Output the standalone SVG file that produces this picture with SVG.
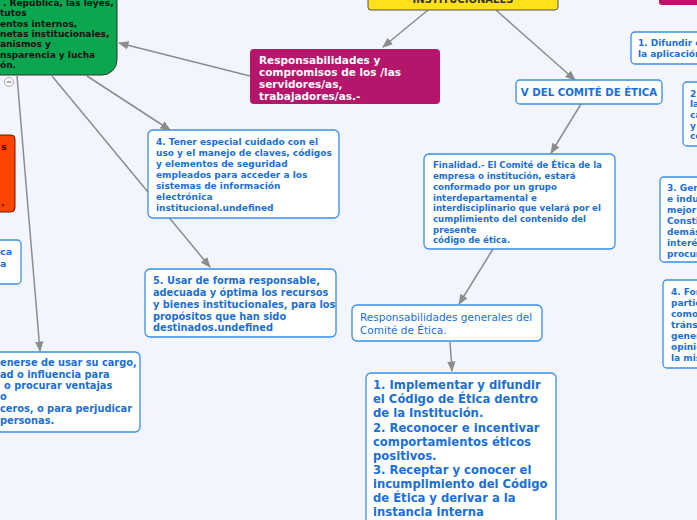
<svg xmlns="http://www.w3.org/2000/svg" width="697" height="520" viewBox="0 0 697 520">
<defs>
<style>
.b{font-family:"DejaVu Sans",Verdana,sans-serif;font-weight:bold}
.w{fill:#fff;stroke:#3a8ee6;stroke-width:1.3}
.bt{fill:#1a6fd6}
.c{stroke:#8c8c8c;stroke-width:1.5;fill:none}
</style>
<marker id="a" viewBox="0 0 10 10" refX="9" refY="5" markerWidth="7" markerHeight="7" orient="auto"><path d="M0,1 L10,5 L0,9 z" fill="#8c8c8c"/></marker>
</defs>
<rect width="697" height="520" fill="#f2f5fe"/>
<g id="connectors">
<path class="c" d="M52,76 L210,267" marker-end="url(#a)"/>
<path class="c" d="M87,76 L170,130" marker-end="url(#a)"/>
<path class="c" d="M17,76 L40,351" marker-end="url(#a)"/>
<path class="c" d="M250,76 L119,43" marker-end="url(#a)"/>
<path class="c" d="M428,10 L383,47" marker-end="url(#a)"/>
<path class="c" d="M496,10 L575,80" marker-end="url(#a)"/>
<path class="c" d="M581,104 L551,153" marker-end="url(#a)"/>
<path class="c" d="M493,249 L459,304" marker-end="url(#a)"/>
<path class="c" d="M450,342 L452,371" marker-end="url(#a)"/>
</g>
<g id="green">
<rect x="-20" y="-20" width="137" height="95" rx="15" fill="#0aa650" stroke="#333" stroke-width="1"/>
<g class="b" font-size="9" fill="#111">
<text x="3" y="6">. República, las leyes,</text>
<text x="0" y="16">tutos</text>
<text x="0" y="27">entos internos,</text>
<text x="0" y="37">netas institucionales,</text>
<text x="0" y="47">anismos y</text>
<text x="0" y="58">nsparencia y lucha</text>
<text x="0" y="68">ón.</text>
</g>
<circle cx="9" cy="82" r="4.5" fill="#fff" stroke="#aaa"/>
<line x1="6.5" y1="82" x2="11.5" y2="82" stroke="#666"/>
</g>
<g id="yellow">
<rect x="368" y="-20" width="190" height="30" rx="3" fill="#ffe01a" stroke="#555"/>
<text class="b" x="463" y="3" font-size="10" fill="#333" text-anchor="middle">INSTITUCIONALES</text>
</g>
<g id="topright"><rect x="659" y="-20" width="60" height="25" rx="3" fill="#b5166b"/></g>
<g id="magenta">
<rect x="250" y="49" width="190" height="55" rx="4" fill="#b5166b"/>
<g class="b" font-size="10.5" fill="#fff">
<text x="259" y="64">Responsabilidades y</text>
<text x="259" y="76">compromisos de los /las</text>
<text x="259" y="88">servidores/as,</text>
<text x="259" y="100">trabajadores/as.-</text>
</g>
</g>
<g id="comite">
<rect class="w" x="516" y="80" width="146" height="24" rx="4"/>
<text class="b bt" x="589" y="96" font-size="10.2" text-anchor="middle">V DEL COMITÉ DE ÉTICA</text>
</g>
<g id="finalidad">
<rect class="w" x="424" y="154" width="191" height="95" rx="5"/>
<g class="b bt" font-size="8.6">
<text x="433" y="168">Finalidad.- El Comité de Ética de la</text>
<text x="433" y="179">empresa o institución, estará</text>
<text x="433" y="190">conformado por un grupo</text>
<text x="433" y="201">interdepartamental e</text>
<text x="433" y="211">interdisciplinario que velará por el</text>
<text x="433" y="222">cumplimiento del contenido del</text>
<text x="433" y="233">presente</text>
<text x="433" y="243">código de ética.</text>
</g>
</g>
<g id="respgen">
<rect class="w" x="352" y="305" width="190" height="36" rx="5"/>
<text x="360" y="321" font-family="DejaVu Sans,Verdana,sans-serif" font-size="10.5" class="bt">Responsabilidades generales del</text>
<text x="360" y="334" font-family="DejaVu Sans,Verdana,sans-serif" font-size="10.5" class="bt">Comité de Ética.</text>
</g>
<g id="big">
<rect class="w" x="366" y="373" width="190" height="160" rx="5"/>
<g class="b bt" font-size="11.6">
<text x="373" y="389">1. Implementar y difundir</text>
<text x="373" y="403">el Código de Ética dentro</text>
<text x="373" y="417">de la Institución.</text>
<text x="373" y="432">2. Reconocer e incentivar</text>
<text x="373" y="446">comportamientos éticos</text>
<text x="373" y="460">positivos.</text>
<text x="373" y="474">3. Receptar y conocer el</text>
<text x="373" y="488">incumplimiento del Código</text>
<text x="373" y="502">de Ética y derivar a la</text>
<text x="373" y="516">instancia interna</text>
</g>
</g>
<g id="n4">
<rect class="w" x="148" y="130" width="191" height="88" rx="5"/>
<g class="b bt" font-size="9">
<text x="156" y="145">4. Tener especial cuidado con el</text>
<text x="156" y="156">uso y el manejo de claves, códigos</text>
<text x="156" y="167">y elementos de seguridad</text>
<text x="156" y="178">empleados para acceder a los</text>
<text x="156" y="189">sistemas de información</text>
<text x="156" y="200">electrónica</text>
<text x="156" y="211">institucional.undefined</text>
</g>
</g>
<g id="n5">
<rect class="w" x="145" y="269" width="191" height="68" rx="5"/>
<g class="b bt" font-size="9.8">
<text x="153" y="284">5. Usar de forma responsable,</text>
<text x="153" y="296">adecuada y óptima los recursos</text>
<text x="153" y="308">y bienes institucionales, para los</text>
<text x="153" y="320">propósitos que han sido</text>
<text x="153" y="331">destinados.undefined</text>
</g>
</g>
<g id="orange">
<rect x="-20" y="135" width="35" height="77" rx="4" fill="#ff4500" stroke="#6b1a00"/>
<text class="b" x="1" y="150" font-size="9.5" fill="#111">s</text>
<text class="b" x="1" y="206" font-size="9.5" fill="#111">.</text>
</g>
<g id="leftw">
<rect class="w" x="-20" y="240" width="41" height="44" rx="4"/>
<g class="b bt" font-size="9.5"><text x="0" y="255">ca</text><text x="0" y="267">a</text></g>
</g>
<g id="bottomleft">
<rect class="w" x="-20" y="352" width="160" height="80" rx="5"/>
<g class="b bt" font-size="9.8">
<text x="0" y="366">enerse de usar su cargo,</text>
<text x="0" y="378">ad o influencia para</text>
<text x="4" y="389">o procurar ventajas</text>
<text x="0" y="400">o</text>
<text x="0" y="412">ceros, o para perjudicar</text>
<text x="0" y="424">personas.</text>
</g>
</g>
<g id="r1">
<rect class="w" x="631" y="32" width="80" height="32" rx="4"/>
<g class="b bt" font-size="9"><text x="638" y="46">1. Difundir e</text><text x="638" y="57">la aplicación</text></g>
</g>
<g id="r2">
<rect class="w" x="683" y="82" width="30" height="64" rx="4"/>
<g class="b bt" font-size="9"><text x="690" y="97">2</text><text x="690" y="107">la</text><text x="690" y="118">ca</text><text x="690" y="129">y</text><text x="690" y="139">co</text></g>
</g>
<g id="r3">
<rect class="w" x="660" y="177" width="50" height="85" rx="4"/>
<g class="b bt" font-size="9">
<text x="667" y="191">3. Gen</text><text x="667" y="202">e indu</text><text x="667" y="213">mejor</text><text x="667" y="224">Consti</text><text x="667" y="235">demás</text><text x="667" y="246">interé</text><text x="667" y="257">procur</text>
</g>
</g>
<g id="r4">
<rect class="w" x="663" y="280" width="50" height="88" rx="4"/>
<g class="b bt" font-size="9">
<text x="671" y="295">4. For</text><text x="671" y="306">partic</text><text x="671" y="317">como</text><text x="671" y="328">tráns</text><text x="671" y="339">gener</text><text x="671" y="350">opinic</text><text x="671" y="361">la mis</text>
</g>
</g>
</svg>
